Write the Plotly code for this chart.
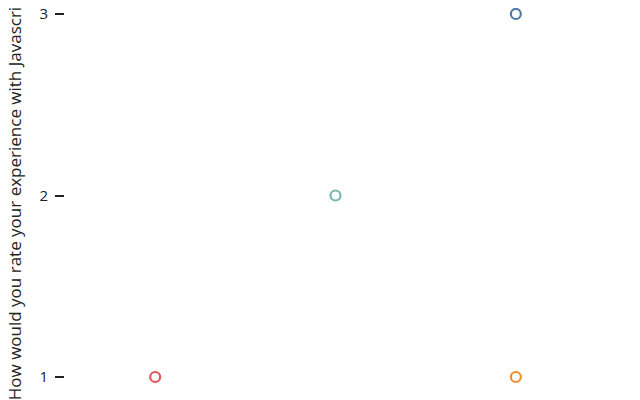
import plotly.graph_objects as go

# hidden x categories, one trace per respondent group
groups = ["Group 1", "Group 2", "Group 3", "Group 4"]
x_cats = ["A", "B", "C", "C"]
ratings = [1, 2, 3, 1]
colors = ["#e15759", "#76b7b2", "#4e79a7", "#f28e2b"]
y_title = "How would you rate your experience with Javascript"

fig = go.Figure()
for g, xc, r, c in zip(groups, x_cats, ratings, colors):
    fig.add_trace(go.Scatter(
        x=[xc], y=[r], mode="markers", name=g, cliponaxis=False,
        marker=dict(symbol="circle-open", size=10, color=c, line=dict(width=2.2, color=c)),
    ))

fig.update_layout(
    width=640, height=400,
    margin=dict(l=57, r=42, t=6, b=31),
    paper_bgcolor="white", plot_bgcolor="white",
    showlegend=False,
    font=dict(family="Open Sans", size=15, color="#222"),
)
fig.update_xaxes(visible=False, type="category", categoryorder="array",
                 categoryarray=["A", "B", "C"], range=[-0.5, 2.5])
fig.update_yaxes(
    range=[1, 3], tickvals=[1, 2, 3], showgrid=False, zeroline=False, showline=False,
    automargin=False, ticklabelstandoff=4, ticklabeloverflow="allow",
    ticks="outside", ticklen=9, tickwidth=2, tickcolor="#222",
)
# axis title as a rotated annotation so it can sit closer to the left edge
fig.add_annotation(text=y_title, textangle=-90, showarrow=False,
                   xref="paper", yref="paper", x=-0.093, y=0.5,
                   xanchor="center", yanchor="middle", font=dict(size=17))
fig.write_html("out.html")
